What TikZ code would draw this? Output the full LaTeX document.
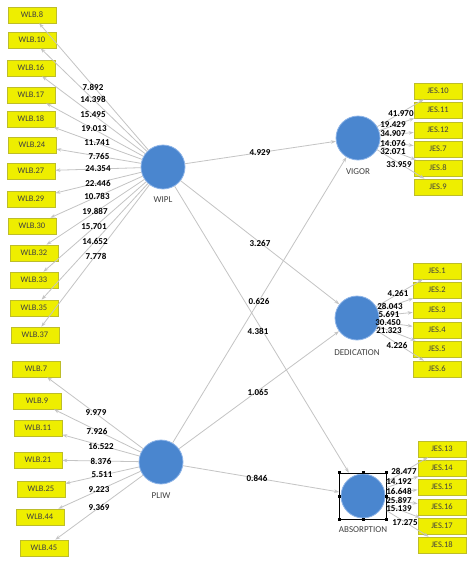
\documentclass[tikz,border=0pt]{standalone}
\usepackage{fontspec}
\setmainfont{Carlito}
\usetikzlibrary{arrows.meta}
\definecolor{lvfill}{HTML}{4A86CF}
\definecolor{lvedge}{HTML}{8DB4E8}
\definecolor{boxfill}{HTML}{EEEE00}
\definecolor{boxedge}{HTML}{BDBD2A}
\definecolor{linec}{HTML}{C4C4C4}
\definecolor{labc}{HTML}{404040}
\tikzset{
  ind/.style={draw=boxedge, fill=boxfill, line width=0.6, minimum width=48, minimum height=16, inner sep=0, font=\fontsize{8.5}{9}\selectfont, text=labc},
  lat/.style={circle, fill=lvfill, draw=lvedge, line width=0.8, minimum size=44, inner sep=0},
  lnk/.style={draw=linec, line width=0.8, -{Stealth[length=5,width=3.5]}},
  val/.style={font=\bfseries\fontsize{9}{10}\selectfont, text=black, inner sep=0},
  latlab/.style={font=\fontsize{9}{10}\selectfont, text=labc, inner sep=0},
  handle/.style={fill=black, minimum size=3, inner sep=0}
}
\begin{document}
\begin{tikzpicture}[x=1pt,y=-1pt]
\useasboundingbox[fill=white] (0,0) rectangle (474,563);
% latent variables
\node[lat] (wipl) at (163,167) {};
\node[latlab] (wiplL) at (163,200) {WIPL};
\node[lat] (pliw) at (161,462) {};
\node[latlab] (pliwL) at (161,496) {PLIW};
\node[lat] (vigor) at (358,138) {};
\node[latlab] (vigorL) at (358,172) {VIGOR};
\node[lat] (ded) at (357,318) {};
\node[latlab] (dedL) at (357,353) {DEDICATION};
\node[lat] (abs) at (363,496) {};
\node[latlab] (absL) at (363,530) {ABSORPTION};
% selection frame
\node[draw=black, line width=0.6, minimum width=47, minimum height=46, inner sep=0] (sel) at (363,496) {};
\foreach \a/\n in {north west/h1,north/h2,north east/h3,east/h4,south east/h5,south/h6,south west/h7,west/h8}
  \node[handle] (\n) at (sel.\a) {};
% WIPL indicators
\node[ind] (w8)  at (32,15)  {WLB.8};
\node[ind] (w10) at (32,40)  {WLB.10};
\node[ind] (w16) at (31,68)  {WLB.16};
\node[ind] (w17) at (31,95)  {WLB.17};
\node[ind] (w18) at (31,119) {WLB.18};
\node[ind] (w24) at (32,145) {WLB.24};
\node[ind] (w27) at (31,171) {WLB.27};
\node[ind] (w29) at (31,199) {WLB.29};
\node[ind] (w30) at (32,226) {WLB.30};
\node[ind] (w32) at (34,253) {WLB.32};
\node[ind] (w33) at (34,280) {WLB.33};
\node[ind] (w35) at (34,308) {WLB.35};
\node[ind] (w37) at (35,335) {WLB.37};
\foreach \t in {w8,w10,w16,w17,w18,w24,w27,w29,w30,w32,w33,w35,w37}
  \draw[lnk] (wipl) -- (\t);
% PLIW indicators
\node[ind] (w7)  at (36,369) {WLB.7};
\node[ind] (w9)  at (37,401) {WLB.9};
\node[ind] (w11) at (38,428) {WLB.11};
\node[ind] (w21) at (38,460) {WLB.21};
\node[ind] (w25) at (41,489) {WLB.25};
\node[ind] (w44) at (40,517) {WLB.44};
\node[ind] (w45) at (44,548) {WLB.45};
\foreach \t in {w7,w9,w11,w21,w25,w44,w45}
  \draw[lnk] (pliw) -- (\t);
% VIGOR indicators
\node[ind] (j10) at (438,91)  {JES.10};
\node[ind] (j11) at (438,110) {JES.11};
\node[ind] (j12) at (438,130) {JES.12};
\node[ind] (j7)  at (438,149) {JES.7};
\node[ind] (j8)  at (438,168) {JES.8};
\node[ind] (j9)  at (438,187) {JES.9};
\foreach \t in {j10,j11,j12,j7,j8,j9}
  \draw[lnk] (vigor) -- (\t);
% DEDICATION indicators
\node[ind] (j1) at (437,271) {JES.1};
\node[ind] (j2) at (437,290) {JES.2};
\node[ind] (j3) at (437,310) {JES.3};
\node[ind] (j4) at (437,330) {JES.4};
\node[ind] (j5) at (437,349) {JES.5};
\node[ind] (j6) at (437,369) {JES.6};
\foreach \t in {j1,j2,j3,j4,j5,j6}
  \draw[lnk] (ded) -- (\t);
% ABSORPTION indicators
\node[ind] (j13) at (442,449) {JES.13};
\node[ind] (j14) at (442,468) {JES.14};
\node[ind] (j15) at (442,487) {JES.15};
\node[ind] (j16) at (442,507) {JES.16};
\node[ind] (j17) at (442,526) {JES.17};
\node[ind] (j18) at (442,545) {JES.18};
\foreach \t in {j13,j14,j15,j16,j17,j18}
  \draw[lnk] (sel) -- (\t);
% structural paths
\draw[lnk] (wipl) -- (vigor);
\draw[lnk] (wipl) -- (ded);
\draw[lnk] (wipl) -- (sel);
\draw[lnk] (pliw) -- (vigor);
\draw[lnk] (pliw) -- (ded);
\draw[lnk] (pliw) -- (sel);
% values WIPL
\node[val] (v1)  at (93,87)  {7.892};
\node[val] (v2)  at (93,99)  {14.398};
\node[val] (v3)  at (93,115) {15.495};
\node[val] (v4)  at (94,129) {19.013};
\node[val] (v5)  at (97,143) {11.741};
\node[val] (v6)  at (99,156) {7.765};
\node[val] (v7)  at (98,169) {24.354};
\node[val] (v8)  at (98,183) {22.446};
\node[val] (v9)  at (97,196) {10.783};
\node[val] (v10) at (95,211) {19.887};
\node[val] (v11) at (94,227) {15.701};
\node[val] (v12) at (95,241) {14.652};
\node[val] (v13) at (96,256) {7.778};
% values PLIW
\node[val] (p1) at (96,413)  {9.979};
\node[val] (p2) at (97,431)  {7.926};
\node[val] (p3) at (101,446) {16.522};
\node[val] (p4) at (101,461) {8.376};
\node[val] (p5) at (102,475) {5.511};
\node[val] (p6) at (99,490)  {9.223};
\node[val] (p7) at (99,507)  {9.369};
% values VIGOR
\node[val] (g1) at (401,114) {41.970};
\node[val] (g2) at (393,125) {19.429};
\node[val] (g3) at (393,134) {34.907};
\node[val] (g4) at (393,143) {14.076};
\node[val] (g5) at (393,152) {32.071};
\node[val] (g6) at (399,165) {33.959};
% values DEDICATION
\node[val] (d1) at (398,293) {4.261};
\node[val] (d2) at (390,306) {28.043};
\node[val] (d3) at (389,314) {5.691};
\node[val] (d4) at (388,323) {30.450};
\node[val] (d5) at (389,331) {21.323};
\node[val] (d6) at (397,345) {4.226};
% values ABSORPTION
\node[val] (a1) at (404,471) {28.477};
\node[val] (a2) at (399,482) {14.192};
\node[val] (a3) at (399,491) {16.648};
\node[val] (a4) at (399,500) {25.897};
\node[val] (a5) at (399,509) {15.139};
\node[val] (a6) at (405,523) {17.275};
% structural values
\node[val] (s1) at (260,153) {4.929};
\node[val] (s2) at (260,243) {3.267};
\node[val] (s3) at (259,301) {0.626};
\node[val] (s4) at (258,331) {4.381};
\node[val] (s5) at (258,392) {1.065};
\node[val] (s6) at (257,478) {0.846};
\end{tikzpicture}
\end{document}
